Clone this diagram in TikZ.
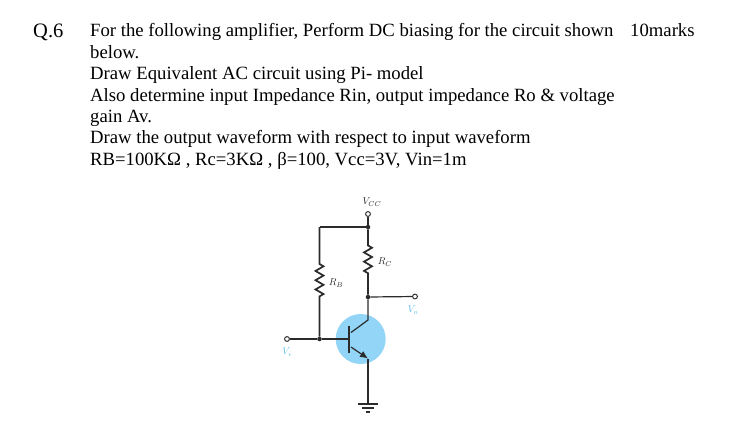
\documentclass[tikz,border=0pt]{standalone}
\usepackage{fontspec}
\setmainfont{Liberation Serif}
\usepackage{xcolor}
\usetikzlibrary{arrows.meta,decorations.pathmorphing}
\definecolor{wire}{HTML}{2B2B2B}
\definecolor{bulb}{HTML}{92D5F6}
\definecolor{vlbl}{HTML}{5CBDE9}
\tikzset{
  line/.style={draw=wire, line width=1.2pt},
  rbar/.style={draw=wire, line width=2.4pt},
  dot/.style={circle, fill=wire, inner sep=1.6pt},
  term/.style={circle, draw=wire, fill=white, line width=1pt, inner sep=1.7pt},
  qtext/.style={anchor=base west, text=black, font=\fontsize{18.7}{21}\selectfont, inner sep=0pt},
  lbl/.style={text=wire, font=\fontsize{10}{11}\selectfont},
  vblue/.style={text=vlbl, font=\fontsize{10}{11}\selectfont},
  res/.style n args={2}{line, line width=1.7pt, decorate, decoration={zigzag, segment length=9.25pt, amplitude=4pt, pre=lineto, post=lineto, pre length=#1, post length=#2}}
}
\begin{document}
\begin{tikzpicture}[x=1pt,y=-1pt]
  \useasboundingbox (0,0) rectangle (741,437);

  % question text
  \node[qtext, font=\fontsize{20.5}{22}\selectfont] (qno) at (33,37) {Q.6};
  \node[qtext] (l1) at (90,36) {For the following amplifier, Perform DC biasing for the circuit shown};
  \node[qtext] (marks) at (630,36) {10marks};
  \node[qtext] (l2) at (90,58) {below.};
  \node[qtext] (l3) at (90,79) {Draw Equivalent AC circuit using Pi- model};
  \node[qtext] (l4) at (90,101) {Also determine input Impedance Rin, output impedance Ro \& voltage};
  \node[qtext] (l5) at (90,122) {gain Av.};
  \node[qtext] (l6) at (90,143) {Draw the output waveform with respect to input waveform};
  \node[qtext] (l7) at (90,165) {RB=100KΩ , Rc=3KΩ , β=100, Vcc=3V, Vin=1m};

  % transistor disc goes under the wires
  \fill[bulb] (360.7,339) circle (25);

  \node[term] (vcc) at (368,214) {};
  \node[dot] (top) at (368,227) {};
  \coordinate (corner) at (319.5,227);
  \node[dot] (outj) at (368,297) {};
  \node[term] (vo) at (415,296.5) {};
  \node[dot] (basej) at (319.5,339) {};
  \node[term] (vi) at (287,339) {};
  \coordinate (base) at (349,339);
  \coordinate (barT) at (349,326);
  \coordinate (barB) at (349,353);
  \coordinate (cin) at (351,332.5);
  \coordinate (cup) at (368,320);
  \coordinate (ein) at (351,347);
  \coordinate (eout) at (368,358.5);
  \coordinate (gnd) at (368,404);

  \draw[line] (vcc) -- (top);
  \draw[line] (top) -- (corner);
  \draw[res={16pt}{17pt}] (top) -- (outj);
  \draw[res={37pt}{38pt}] (corner) -- (basej);
  \draw[line] (outj) -- (vo);
  \draw[line] (vi) -- (basej);
  \draw[line] (basej) -- (base);
  \draw[rbar] (barT) -- (barB);

  \draw[line] (cin) -- (cup) -- (outj);
  \draw[line, -{Latex[length=8pt,width=7pt]}] (ein) -- (eout);
  \draw[line] (eout) -- (gnd);

  % ground
  \draw[line, line width=1.5pt] (358,404) -- (378,404);
  \draw[line, line width=1.5pt] (362,408) -- (374,408);
  \draw[line, line width=1.5pt] (366,412) -- (370,412);

  \node[lbl] (vcclbl) at (372,202) {$V_{CC}$};
  \node[lbl] (rclbl) at (385,262) {$R_C$};
  \node[lbl] (rblbl) at (336,283) {$R_B$};
  \node[vblue] (volbl) at (413,310) {$V_o$};
  \node[vblue] (vilbl) at (287,352) {$V_i$};
\end{tikzpicture}
\end{document}
